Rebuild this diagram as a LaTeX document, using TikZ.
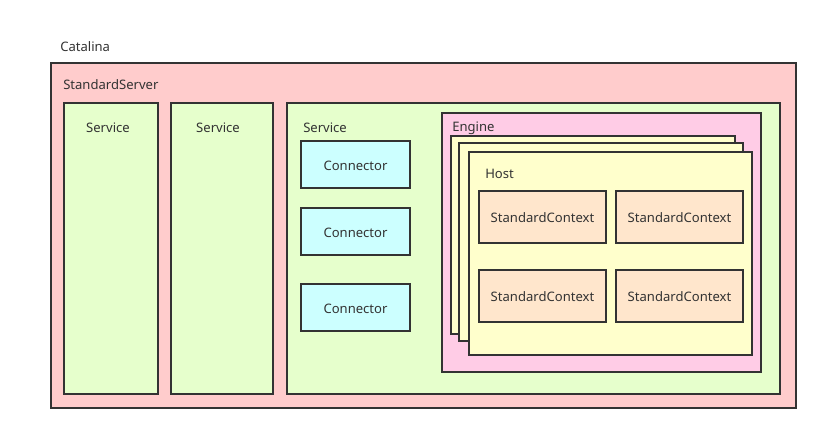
\documentclass[tikz,border=0pt]{standalone}
\usepackage{fontspec}
\setmainfont{Noto Sans}
\usepackage{xcolor}
\usetikzlibrary{positioning}

\definecolor{serverred}{HTML}{FFCCCC}
\definecolor{servicegreen}{HTML}{E6FFCC}
\definecolor{conncyan}{HTML}{CCFFFF}
\definecolor{enginepink}{HTML}{FFCCE6}
\definecolor{hostyellow}{HTML}{FFFFCC}
\definecolor{ctxorange}{HTML}{FFE6CC}
\definecolor{edgegray}{HTML}{333333}

\begin{document}
\begin{tikzpicture}[x=0.75pt, y=-0.75pt,
	box/.style={rectangle, draw=edgegray, line width=1.5pt, inner sep=0pt, outer sep=0pt, anchor=north west},
	txt/.style={text=edgegray, font=\fontsize{9.8}{11}\selectfont, inner sep=0pt},
	lbl/.style={txt, anchor=west},
	connbox/.style={box, fill=conncyan, minimum width=81.75pt, minimum height=35.25pt},
	ctxbox/.style={box, fill=ctxorange, minimum width=95.25pt, minimum height=39pt},
	hostbox/.style={box, fill=hostyellow, minimum width=213pt, minimum height=148.5pt}]
	\useasboundingbox[fill=white] (0,0) rectangle (821,433);
	
	\node[lbl] (catalina) at (60,47) {Catalina};
	\node[box, fill=serverred, minimum width=558.75pt, minimum height=258.75pt] (server) at (51,63) {};
	\node[lbl] (serverlbl) at (63,85) {StandardServer};
	
	% services
	\node[box, fill=servicegreen, minimum width=70.5pt, minimum height=218.25pt] (service1) at (64,103) {};
	\node[box, fill=servicegreen, minimum width=76.5pt, minimum height=218.25pt] (service2) at (171,103) {};
	\node[box, fill=servicegreen, minimum width=369.75pt, minimum height=218.25pt] (service3) at (287,103) {};
	\node[txt] (service1lbl) at (108,128) {Service};
	\node[txt] (service2lbl) at (218,128) {Service};
	\node[lbl] (service3lbl) at (303,128) {Service};
	
	% connectors
	\node[connbox] (conn1) at (301,141) {};
	\node[connbox] (conn2) at (301,208) {};
	\node[connbox] (conn3) at (301,284) {};
	\foreach \c in {conn1,conn2,conn3}
		\node[txt, yshift=-0.75pt] at (\c.center) {Connector};
	
	% engine and hosts
	\node[box, fill=enginepink, minimum width=239.25pt, minimum height=194.25pt] (engine) at (442,113) {};
	\node[lbl] (enginelbl) at (452,128) {Engine};
	\node[hostbox] (host1) at (451,136) {};
	\node[hostbox] (host2) at (459,143) {};
	\node[hostbox, minimum width=212.25pt, minimum height=152.25pt] (host3) at (469,152) {};
	\node[lbl] (hostlbl) at (485,174) {Host};
	
	% contexts
	\node[ctxbox] (ctx1) at (479,191) {};
	\node[ctxbox] (ctx2) at (616,191) {};
	\node[ctxbox] (ctx3) at (479,270) {};
	\node[ctxbox] (ctx4) at (616,270) {};
	\foreach \c in {ctx1,ctx2,ctx3,ctx4}
		\node[txt, yshift=-0.75pt] at (\c.center) {StandardContext};
	
\end{tikzpicture}
\end{document}
